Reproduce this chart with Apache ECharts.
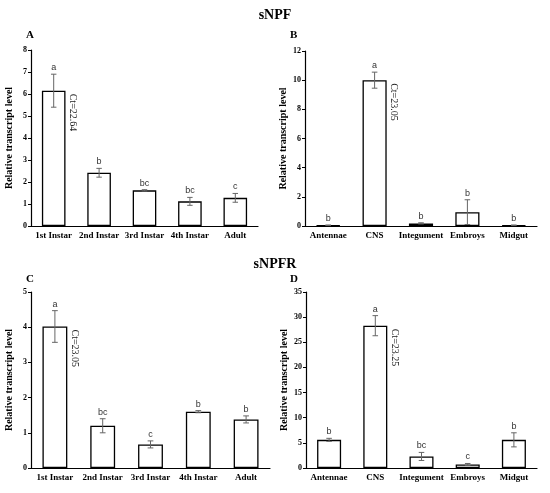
<!DOCTYPE html><html><head><meta charset="utf-8"><script src="https://cdn.jsdelivr.net/npm/echarts@6/dist/echarts.min.js"></script>
<style>html,body{margin:0;background:#fff}#c{width:550px;height:493px}</style></head><body><div id="c"></div><script>
const stages=['1st Instar','2nd Instar','3rd Instar','4th Instar','Adult'];
const tissues=['Antennae','CNS','Integument','Embroys','Midgut'];
const aVal=[6.15,2.42,1.62,1.12,1.28], aErr=[0.75,0.2,0.03,0.18,0.2], aLet=['a','b','bc','bc','c'];
const bVal=[0.05,10.0,0.18,0.95,0.05], bErr=[0.02,0.55,0.04,0.85,0.02], bLet=['b','a','b','b','b'];
const cVal=[4.02,1.2,0.67,1.6,1.38], cErr=[0.45,0.2,0.1,0.03,0.1], cLet=['a','bc','c','b','b'];
const dVal=[5.6,28.3,2.3,0.7,5.6], dErr=[0.3,2.0,0.8,0.2,1.4], dLet=['b','a','bc','c','b'];
const ctLabels=['Ct=22.64','Ct=23.05','Ct=23.05','Ct=23.25'];
const ctIdx=[0,1,0,1];
const yMax=[8,12,5,35], yInt=[1,2,1,5];
const F='Liberation Serif';
const grids=[{left:31,right:292,top:50,bottom:267},{left:305,right:13,top:51,bottom:267},{left:31,right:280,top:292,bottom:25},{left:306,right:13,top:292,bottom:25}];
const panels=[[stages,aVal,aErr,aLet],[tissues,bVal,bErr,bLet],[stages,cVal,cErr,cLet],[tissues,dVal,dErr,dLet]];
const xAxis=[],yAxis=[],series=[];
panels.forEach((p,i)=>{
 xAxis.push({gridIndex:i,type:'category',data:p[0],axisLine:{lineStyle:{color:'#000',width:1.2}},axisTick:{alignWithLabel:true,length:3,lineStyle:{color:'#000'}},axisLabel:{fontFamily:F,fontWeight:'bold',fontSize:9,color:'#000',margin:5,interval:0}});
 yAxis.push({gridIndex:i,type:'value',min:0,max:yMax[i],interval:yInt[i],splitLine:{show:false},axisLine:{show:true,lineStyle:{color:'#000',width:1.2}},axisTick:{show:true,length:3,lineStyle:{color:'#000'}},axisLabel:{fontFamily:F,fontWeight:'bold',fontSize:8,color:'#000',margin:4},name:'Relative transcript level',nameLocation:'middle',nameGap:17,nameTextStyle:{fontFamily:F,fontWeight:'bold',fontSize:10,color:'#000'}});
 series.push({type:'bar',xAxisIndex:i,yAxisIndex:i,data:p[1],barWidth:'52%',itemStyle:{color:'#fff',borderColor:'#000',borderWidth:1.3}});
 series.push({type:'custom',xAxisIndex:i,yAxisIndex:i,data:p[1].map((v,j)=>[j,v,p[2][j]]),z:5,
  renderItem:(params,api)=>{
   const j=api.value(0),v=api.value(1),e=api.value(2);
   const top=api.coord([j,v+e]),bot=api.coord([j,Math.max(0,v-e)]);
   const w=api.size([1,0])[0]*0.06;
   const kids=[
    {type:'line',shape:{x1:top[0],y1:top[1],x2:bot[0],y2:bot[1]},style:{stroke:'#666',lineWidth:1}},
    {type:'line',shape:{x1:top[0]-w,y1:top[1],x2:top[0]+w,y2:top[1]},style:{stroke:'#666',lineWidth:1}},
    {type:'line',shape:{x1:bot[0]-w,y1:bot[1],x2:bot[0]+w,y2:bot[1]},style:{stroke:'#666',lineWidth:1}},
    {type:'text',x:top[0],y:top[1]-2,style:{text:p[3][j],fill:'#333',font:'9px "Liberation Sans"',textAlign:'center',textVerticalAlign:'bottom'}}];
   if(j===ctIdx[i]){
    const b=api.coord([j,v]);const bw=api.size([1,0])[0]*0.26;
    kids.push({type:'text',x:b[0]+bw+2,y:b[1]+3,rotation:-Math.PI/2,style:{text:ctLabels[i],fill:'#222',font:'10px "Liberation Serif"',textAlign:'left',textVerticalAlign:'bottom'}});
   }
   return {type:'group',children:kids};
  }});
});
const letters=['A','B','C','D'],lp=[[26,30],[290,30],[26,274],[290,274]];
const graphic=[{type:'text',left:'center',top:8,style:{text:'sNPF',font:'bold 14px "Liberation Serif"',fill:'#000'}},
 {type:'text',left:'center',top:257,style:{text:'sNPFR',font:'bold 14px "Liberation Serif"',fill:'#000'}}];
letters.forEach((l,i)=>graphic.push({type:'text',left:lp[i][0],top:lp[i][1],style:{text:l,font:'bold 11px "Liberation Serif"',fill:'#000'}}));
const ch=echarts.init(document.getElementById('c'));
ch.setOption({animation:false,grid:grids,xAxis,yAxis,series,graphic});
</script></body></html>
